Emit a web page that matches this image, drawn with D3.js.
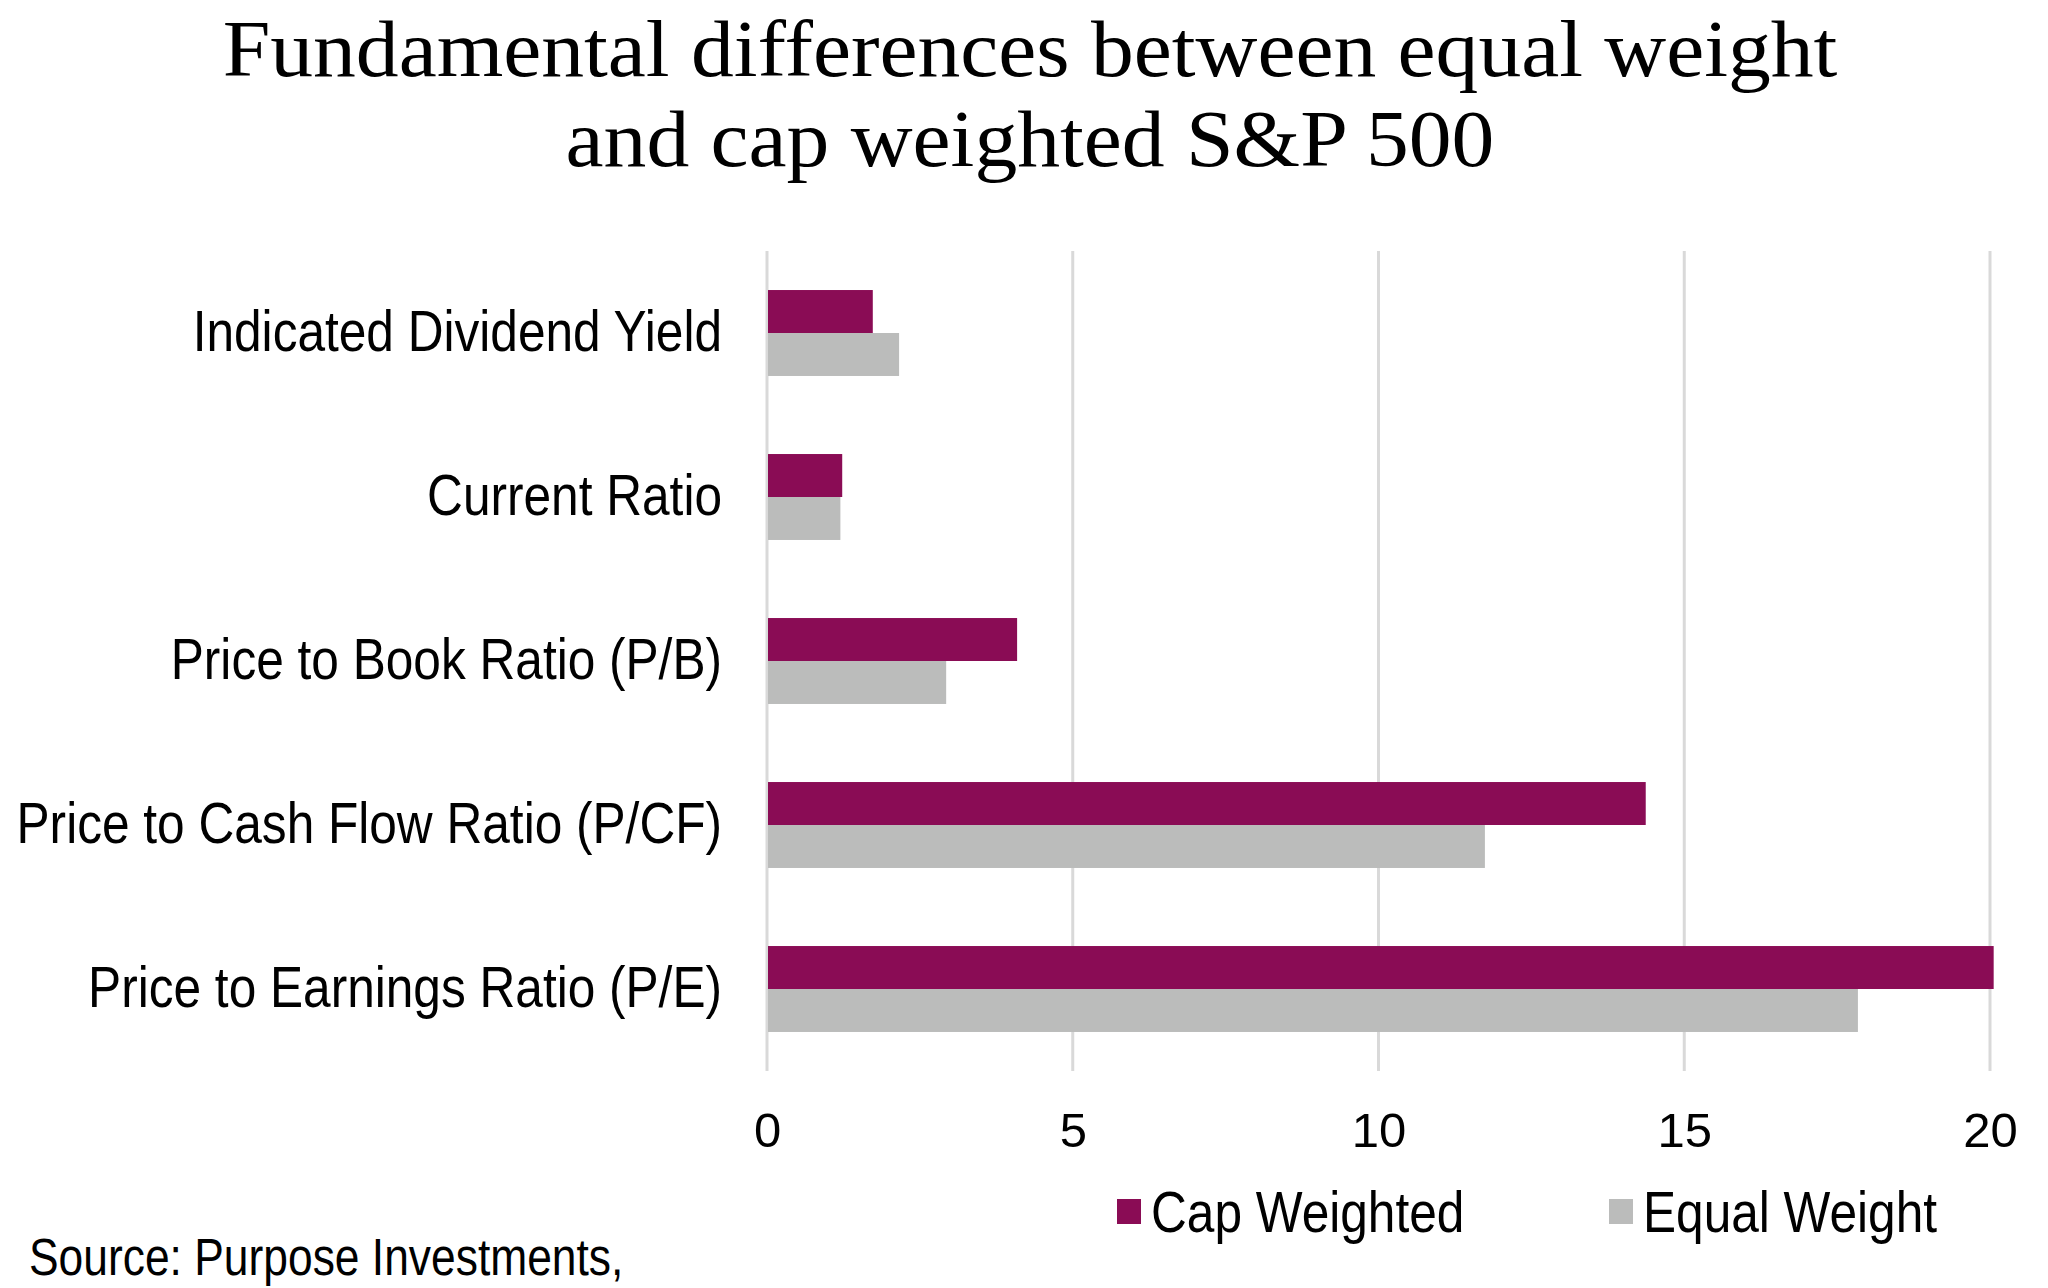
<!DOCTYPE html>
<html>
<head>
<meta charset="utf-8">
<script src="https://cdn.jsdelivr.net/npm/d3@7"></script>
<style>
  body { margin: 0; background: #ffffff; }
  svg { display: block; }
</style>
</head>
<body>
<div id="chart"></div>
<script>
// data
const categories = [
    "Indicated Dividend Yield",
    "Current Ratio",
    "Price to Book Ratio (P/B)",
    "Price to Cash Flow Ratio (P/CF)",
    "Price to Earnings Ratio (P/E)"
];
const seriesNames = ["Cap Weighted", "Equal Weight"];
const capWeighted = [1.73, 1.23, 4.09, 14.37, 20.06];
const equalWeight = [2.16, 1.2, 2.93, 11.74, 17.84];
const xTicks = [0, 5, 10, 15, 20];
const titleLines = ["Fundamental differences between equal weight", "and cap weighted S&P 500"];
const sourceText = "Source: Purpose Investments,";

const colors = {"Cap Weighted": "#8a0c55", "Equal Weight": "#bbbcbb"};

const W = 2048, H = 1288;

let svg = d3.select("#chart").append("svg")
    .attr("width", W)
    .attr("height", H);

// squeeze text horizontally (the original is rendered a bit narrow)
function squeeze(sel, f) {
    sel.each(function () {
        let w = this.getComputedTextLength();
        d3.select(this)
            .attr("textLength", w * f)
            .attr("lengthAdjust", "spacingAndGlyphs");
    });
}

// title
svg.selectAll(".title")
    .data(titleLines)
    .join("text")
    .attr("class", "title")
    .attr("x", 1030)
    .attr("y", (d, i) => 76 + i * 90)
    .attr("text-anchor", "middle")
    .attr("font-family", "'Liberation Serif', 'DejaVu Serif', serif")
    .attr("font-size", 80)
    .attr("fill", "#000")
    .text(d => d)
    .call(squeeze, 1.07);

// scales
let x = d3.scaleLinear()
    .domain([0, 20])
    .range([767, 1990]);

let y = d3.scaleBand()
    .domain(categories)
    .range([251, 1071])
    .paddingInner(0.476)
    .paddingOuter(0.238);

let y1 = d3.scaleBand()
    .domain(seriesNames)
    .range([0, y.bandwidth()]);

// gridlines
svg.selectAll(".grid")
    .data(xTicks)
    .join("line")
    .attr("class", "grid")
    .attr("x1", d => x(d))
    .attr("x2", d => x(d))
    .attr("y1", 251)
    .attr("y2", 1071)
    .attr("stroke", "#d9d9d9")
    .attr("stroke-width", 3);

// bars
let rows = categories.map((c, i) => ({
    cat: c,
    values: [
        {name: "Cap Weighted", value: capWeighted[i]},
        {name: "Equal Weight", value: equalWeight[i]}
    ]
}));

let groups = svg.selectAll(".cat")
    .data(rows)
    .join("g")
    .attr("class", "cat")
    .attr("transform", d => `translate(0, ${y(d.cat)})`);

groups.selectAll("rect")
    .data(d => d.values)
    .join("rect")
    .attr("x", x(0) + 1)
    .attr("y", d => y1(d.name))
    .attr("width", d => x(d.value) - x(0) - 1)
    .attr("height", y1.bandwidth())
    .attr("fill", d => colors[d.name]);

// category labels
svg.selectAll(".cat-label")
    .data(categories)
    .join("text")
    .attr("class", "cat-label")
    .attr("x", 722)
    .attr("y", d => y(d) + y.bandwidth() / 2 + 18)
    .attr("text-anchor", "end")
    .attr("font-family", "'Liberation Sans', Arial, sans-serif")
    .attr("font-size", 57)
    .attr("fill", "#000")
    .text(d => d)
    .call(squeeze, 0.87);

// x axis labels
let xAxis = d3.axisBottom(x)
    .tickValues(xTicks)
    .tickSize(0)
    .tickPadding(0);

let xg = svg.append("g")
    .attr("class", "x-axis")
    .attr("transform", "translate(0, 1110)")
    .call(xAxis);
xg.select(".domain").remove();
xg.selectAll("text")
    .attr("dy", "0.75em")
    .attr("font-family", "'Liberation Sans', Arial, sans-serif")
    .attr("font-size", 49)
    .attr("fill", "#000");

// legend
let legendX = [1117, 1609];
let legend = svg.selectAll(".legend")
    .data(seriesNames)
    .join("g")
    .attr("class", "legend")
    .attr("transform", (d, i) => `translate(${legendX[i]}, 0)`);

legend.append("rect")
    .attr("x", 0)
    .attr("y", 1199)
    .attr("width", 24)
    .attr("height", 25)
    .attr("fill", d => colors[d]);

legend.append("text")
    .attr("x", 34)
    .attr("y", 1232)
    .attr("font-family", "'Liberation Sans', Arial, sans-serif")
    .attr("font-size", 57)
    .attr("fill", "#000")
    .text(d => d)
    .call(squeeze, 0.87);

// source
svg.append("text")
    .attr("x", 29)
    .attr("y", 1275)
    .attr("font-family", "'Liberation Sans', Arial, sans-serif")
    .attr("font-size", 51)
    .attr("fill", "#000")
    .text(sourceText)
    .call(squeeze, 0.87);
</script>
</body>
</html>
